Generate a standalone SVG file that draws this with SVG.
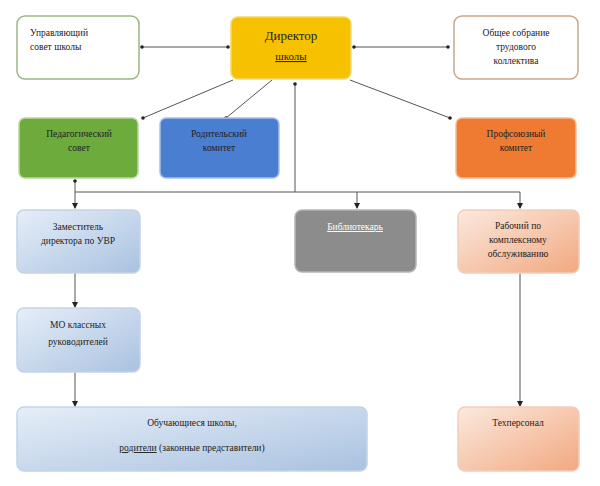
<svg xmlns="http://www.w3.org/2000/svg" width="600" height="486" viewBox="0 0 600 486">
<defs>
<linearGradient id="gb" x1="0" y1="0" x2="1" y2="1"><stop offset="0" stop-color="#e6eef8"/><stop offset="1" stop-color="#a9c2e0"/></linearGradient>
<linearGradient id="go" x1="0" y1="0" x2="1" y2="1"><stop offset="0" stop-color="#fbe9de"/><stop offset="1" stop-color="#f2a880"/></linearGradient>
<marker id="d" markerWidth="4" markerHeight="4" refX="2" refY="2" markerUnits="userSpaceOnUse"><circle cx="2" cy="2" r="1.8" fill="#222"/></marker>
<marker id="a" markerWidth="6" markerHeight="6" refX="5" refY="3" orient="auto" markerUnits="userSpaceOnUse"><path d="M0,0L6,3L0,6z" fill="#222"/></marker>
<style>
text{font-family:"Liberation Serif",serif;font-size:9.5px;fill:#222;text-anchor:middle}
.c line,.c path{stroke:#555;stroke-width:1;fill:none}
rect{stroke-width:1.5}
</style>
</defs>
<rect width="600" height="486" fill="#fff"/>
<g class="c">
<line x1="142" y1="47" x2="228" y2="47" marker-start="url(#d)" marker-end="url(#d)"/>
<line x1="354" y1="47" x2="448" y2="47" marker-start="url(#d)" marker-end="url(#d)"/>
<line x1="233" y1="80" x2="143" y2="118" marker-end="url(#d)"/>
<line x1="272" y1="80" x2="226" y2="118" marker-end="url(#d)"/>
<line x1="350" y1="80" x2="450" y2="118" marker-end="url(#d)"/>
<line x1="295" y1="192" x2="295" y2="84" marker-end="url(#d)"/>
<line x1="75" y1="192" x2="520" y2="192"/>
<line x1="75" y1="192" x2="75" y2="181" marker-end="url(#d)"/>
<line x1="75" y1="192" x2="75" y2="208" marker-end="url(#a)"/>
<line x1="357" y1="192" x2="357" y2="208" marker-end="url(#a)"/>
<line x1="520" y1="192" x2="520" y2="208" marker-end="url(#a)"/>
<line x1="75" y1="273" x2="75" y2="307" marker-end="url(#a)"/>
<line x1="75" y1="372" x2="75" y2="406" marker-end="url(#a)"/>
<line x1="520" y1="273" x2="520" y2="406" marker-end="url(#a)"/>
</g>
<g id="upr"><rect x="17" y="16" width="122" height="63" rx="8" fill="#fff" stroke="#9cb585"/><text x="30" y="36" style="text-anchor:start">Управляющий</text><text x="30" y="50" style="text-anchor:start">совет школы</text></g>
<g id="dir"><rect x="231" y="17" width="120" height="62" rx="7" fill="#f6c200" stroke="#f2d870"/><text x="291" y="40" style="font-size:13px">Директор</text><text x="291" y="60" style="font-size:11px;text-decoration:underline">школы</text></g>
<g id="obsh"><rect x="454" y="16" width="124" height="63" rx="8" fill="#fff" stroke="#c9a58a"/><text x="516" y="36">Общее собрание</text><text x="516" y="50">трудового</text><text x="516" y="64">коллектива</text></g>
<g id="ped"><rect x="19" y="118" width="119" height="60" rx="6" fill="#6dab3d" stroke="#bcd6a2"/><text x="79" y="137">Педагогический</text><text x="79" y="151">совет</text></g>
<g id="rod"><rect x="160" y="118" width="119" height="60" rx="6" fill="#4a7ed0" stroke="#a8c0ea"/><text x="219" y="137">Родительский</text><text x="219" y="151">комитет</text></g>
<g id="prof"><rect x="456" y="118" width="120" height="60" rx="6" fill="#ef7b32" stroke="#f5bd98"/><text x="516" y="137">Профсоюзный</text><text x="516" y="151">комитет</text></g>
<g id="zam"><rect x="17" y="210" width="123" height="63" rx="7" fill="url(#gb)" stroke="#c5d3e6"/><text x="78" y="230">Заместитель</text><text x="78" y="244">директора по УВР</text></g>
<g id="bib"><rect x="295" y="210" width="121" height="62" rx="7" fill="#8c8c8c" stroke="#b5b5b5"/><text x="355" y="230" style="fill:#fff;text-decoration:underline">Библиотекарь</text></g>
<g id="rab"><rect x="458" y="210" width="121" height="63" rx="7" fill="url(#go)" stroke="#f3cdb6"/><text x="518" y="229">Рабочий по</text><text x="518" y="243">комплексному</text><text x="518" y="257">обслуживанию</text></g>
<g id="mo"><rect x="17" y="308" width="123" height="64" rx="7" fill="url(#gb)" stroke="#c5d3e6"/><text x="78" y="341" dy="-13">МО классных</text><text x="78" y="345">руководителей</text></g>
<g id="obuch"><rect x="17" y="407" width="350" height="64" rx="7" fill="url(#gb)" stroke="#c5d3e6"/><text x="192" y="426">Обучающиеся школы,</text><text x="192" y="451"><tspan style="text-decoration:underline">родители</tspan> (законные представители)</text></g>
<g id="tech"><rect x="458" y="407" width="121" height="64" rx="7" fill="url(#go)" stroke="#f3cdb6"/><text x="518" y="426">Техперсонал</text></g>
</svg>
